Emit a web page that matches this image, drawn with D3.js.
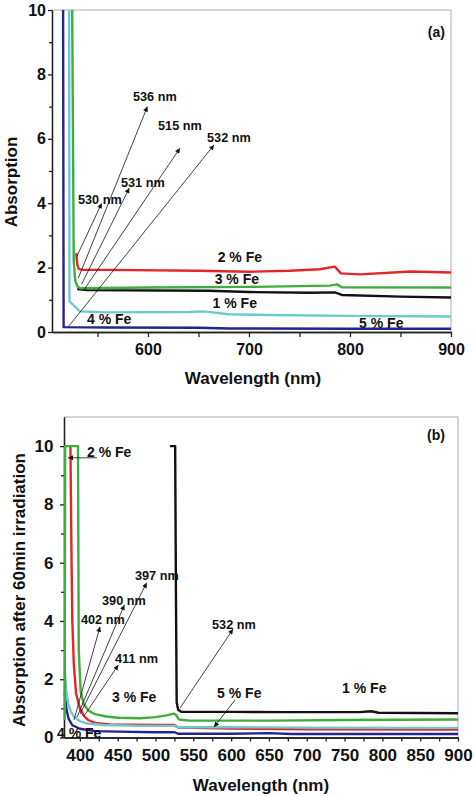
<!DOCTYPE html>
<html>
<head>
<meta charset="utf-8">
<script src="https://cdnjs.cloudflare.com/ajax/libs/d3/7.8.5/d3.min.js"></script>
<style>
  body { margin: 0; background: #fff; }
  svg text { font-family: "Liberation Sans", Arial, sans-serif; font-weight: bold; fill: #111; }
  .axis path, .axis line { stroke: #222; stroke-width: 1.3; }
  .axis text { font-family: "Liberation Sans", Arial, sans-serif; font-weight: bold; fill: #111; }
</style>
</head>
<body>
<svg id="chart" width="474" height="796"></svg>
<script>
// ---- panel (a): [wavelength nm, absorption] ----
var fe1A = [[530,1.33],[540,1.3],[660,1.28],[700,1.24],[760,1.22],[785,1.23],[792,1.15],[850,1.1],[900,1.07]];
var fe2A = [[529,2.45],[530,2.1],[531.5,1.96],[535,1.93],[560,1.93],[650,1.9],[700,1.87],[740,1.9],[770,1.95],[785,2.03],[791,1.82],[810,1.79],[860,1.88],[900,1.85]];
var fe3A = [[525,10],[526.5,2.2],[528,1.6],[530,1.42],[533,1.36],[600,1.38],[700,1.4],[780,1.44],[787,1.48],[792,1.39],[900,1.38]];
var fe4A = [[522,10],[522.3,0.95],[526.5,0.83],[532.5,0.64],[560,0.61],[640,0.62],[655,0.64],[680,0.55],[720,0.53],[800,0.5],[900,0.48]];
var fe5A = [[516,10],[516.5,0.15],[560,0.14],[650,0.13],[680,0.11],[800,0.1],[900,0.1]];

// ---- panel (b): after 60 min irradiation ----
var fe1B = [[519,10],[526,10],[527,5],[528,1.2],[530,0.95],[534,0.88],[600,0.88],[670,0.87],[770,0.87],[785,0.9],[795,0.85],[900,0.83]];
var fe2B = [[387.5,10],[389,6],[390,4],[392,2.5],[395,1.5],[400,1.0],[405,0.75],[411,0.6],[420,0.5],[440,0.45],[500,0.43],[525,0.43],[530,0.34],[600,0.31],[700,0.28],[900,0.27]];
var fe3B = [[380,0.6],[380.5,10],[397.5,10],[398.5,3],[401,1.6],[405,1.15],[411,0.93],[420,0.8],[435,0.72],[450,0.68],[480,0.66],[500,0.7],[515,0.76],[524,0.82],[527,0.78],[531,0.62],[545,0.58],[650,0.58],[750,0.6],[900,0.62]];
var fe4B = [[380,2.35],[382,1.6],[385,1.1],[388,0.9],[392,0.72],[400,0.56],[410,0.48],[430,0.43],[480,0.4],[525,0.4],[530,0.35],[600,0.35],[700,0.34],[900,0.33]];
var fe5B = [[380,1.55],[382,1.0],[385,0.65],[390,0.42],[400,0.3],[420,0.22],[450,0.2],[500,0.18],[525,0.18],[530,0.13],[600,0.13],[650,0.15],[680,0.12],[900,0.12]];

// tick values
var xMajorA = [600,700,800,900], xMinorA = [550,650,750,850];
var xMajorB = d3.range(400, 901, 50), xMinorB = d3.range(425, 900, 50);
var yMajor = [0,2,4,6,8,10], yMinor = [1,3,5,7,9];

// annotation arrows [x1,y1,x2,y2] and labels [text,x,y], in data units
var arrowsA = [[529.5,2.34,554.2,4.0],[531,1.67,599.4,7.0],[534.4,1.49,581.5,4.47],[536.7,1.31,631.7,5.71],[521.1,0.16,665.4,5.81]];
var labelsA = [["(a)",877,9.17],["2 % Fe",669,2.18],["3 % Fe",666,1.49],["1 % Fe",664,0.75],["4 % Fe",539.7,0.25],["5 % Fe",809,0.12],
               ["536 nm",585.2,7.17],["515 nm",610,6.26],["532 nm",658.5,5.89],["531 nm",573.3,4.49],["530 nm",530.7,3.96]];
var arrowsB = [[392.2,0.6,426.6,3.8],[396.2,0.7,458.8,4.55],[400.2,0.81,488.4,5.31],[405.5,0.74,450.8,2.49],
               [532.4,1.01,602.5,3.72],[422.7,9.6,384.3,9.6],[605.2,1.29,577.4,0.36]];
var labelsB = [["(b)",859,10.21],["2 % Fe",409.4,9.63],["397 nm",472.9,5.42],["390 nm",429.3,4.56],["402 nm",401.5,3.91],
               ["411 nm",446.5,2.54],["532 nm",574.8,3.71],["3 % Fe",442.5,1.22],["5 % Fe",581.4,1.36],["1 % Fe",746.7,1.53],["4 % Fe",369.7,-0.02]];

var colors = {fe1: "#111111", fe2: "#e3262a", fe3: "#3fae3f", fe4: "#6ccaca", fe5: "#24248c"};

var svg = d3.select("#chart");

svg.append("defs").append("marker")
    .attr("id", "arr")
    .attr("viewBox", "0 0 10 10")
    .attr("refX", 10).attr("refY", 5)
    .attr("markerUnits", "userSpaceOnUse")
    .attr("markerWidth", 7).attr("markerHeight", 5)
    .attr("orient", "auto")
  .append("path")
    .attr("d", "M0,0L10,5L0,10z")
    .attr("fill", "#111");

function drawPanel(p) {
  var x = d3.scaleLinear().domain(p.xDomain).range(p.xRange);
  var y = d3.scaleLinear().domain(p.yDomain).range(p.yRange);
  var g = svg.append("g");

  // light frame on top and right
  g.append("path")
    .attr("d", "M" + x.range()[0] + "," + y.range()[1] + "H" + x.range()[1] + "V" + y.range()[0])
    .attr("fill", "none").attr("stroke", "#aaa").attr("stroke-width", 1);

  // axes
  g.append("g").attr("class", "axis")
    .attr("transform", "translate(0," + y.range()[0] + ")")
    .call(d3.axisBottom(x).tickValues(p.xMinor).tickSize(p.tick).tickSizeOuter(0).tickFormat(""));
  g.append("g").attr("class", "axis")
    .attr("transform", "translate(0," + y.range()[0] + ")")
    .call(d3.axisBottom(x).tickValues(p.xMajor).tickSize(p.tick).tickSizeOuter(0).tickPadding(p.xPad))
    .selectAll("text").style("font-size", p.tickFont + "px");
  g.append("g").attr("class", "axis")
    .attr("transform", "translate(" + x.range()[0] + ",0)")
    .call(d3.axisLeft(y).tickValues(yMinor).tickSize(3).tickSizeOuter(0).tickFormat(""));
  g.append("g").attr("class", "axis")
    .attr("transform", "translate(" + x.range()[0] + ",0)")
    .call(d3.axisLeft(y).tickValues(yMajor).tickSize(4).tickSizeOuter(0).tickPadding(p.yPad))
    .selectAll("text").style("font-size", p.tickFont + "px");

  // curves
  var line = d3.line().x(function(d) { return x(d[0]); }).y(function(d) { return y(d[1]); });
  p.series.forEach(function(s) {
    g.append("path")
      .datum(s.data)
      .attr("d", line)
      .attr("fill", "none")
      .attr("stroke", colors[s.key])
      .attr("stroke-width", 2.4)
      .attr("stroke-linejoin", "round");
  });

  // arrows
  g.selectAll(".arrow").data(p.arrows).enter().append("line")
    .attr("x1", function(d) { return x(d[0]); })
    .attr("y1", function(d) { return y(d[1]); })
    .attr("x2", function(d) { return x(d[2]); })
    .attr("y2", function(d) { return y(d[3]); })
    .attr("stroke", "#111").attr("stroke-width", 0.8)
    .attr("marker-end", "url(#arr)");

  // labels
  g.selectAll(".lab").data(p.labels).enter().append("text")
    .attr("x", function(d) { return x(d[1]); })
    .attr("y", function(d) { return y(d[2]); })
    .style("font-size", function(d) { return d[0].indexOf("nm") > 0 ? "12.7px" : "14px"; })
    .text(function(d) { return d[0]; });

  // axis titles
  svg.append("text")
    .attr("x", p.xTitle[0]).attr("y", p.xTitle[1])
    .attr("text-anchor", "middle")
    .style("font-size", "17px")
    .text("Wavelength (nm)");
  svg.append("text")
    .attr("transform", "translate(" + p.yTitle[0] + "," + p.yTitle[1] + ") rotate(-90)")
    .attr("text-anchor", "middle")
    .attr("dy", "0.35em")
    .style("font-size", "17px")
    .text(p.yLabel);
}

drawPanel({
  xDomain: [505, 900], xRange: [52, 451],
  yDomain: [0, 10], yRange: [332, 10],
  xMajor: xMajorA, xMinor: xMinorA, tick: 5, xPad: 6.5, yPad: 2, tickFont: 16,
  series: [{key: "fe5", data: fe5A}, {key: "fe4", data: fe4A}, {key: "fe1", data: fe1A},
           {key: "fe2", data: fe2A}, {key: "fe3", data: fe3A}],
  arrows: arrowsA, labels: labelsA,
  xTitle: [253, 384], yTitle: [11, 182], yLabel: "Absorption"
});

drawPanel({
  xDomain: [379, 900], xRange: [64, 458],
  yDomain: [0, 11], yRange: [737.5, 417],
  xMajor: xMajorB, xMinor: xMinorB, tick: 4, xPad: 7.5, yPad: 6.5, tickFont: 17,
  series: [{key: "fe2", data: fe2B}, {key: "fe5", data: fe5B}, {key: "fe4", data: fe4B},
           {key: "fe3", data: fe3B}, {key: "fe1", data: fe1B}],
  arrows: arrowsB, labels: labelsB,
  xTitle: [261, 791], yTitle: [19, 590], yLabel: "Absorption after 60min irradiation"
});
</script>
</body>
</html>
